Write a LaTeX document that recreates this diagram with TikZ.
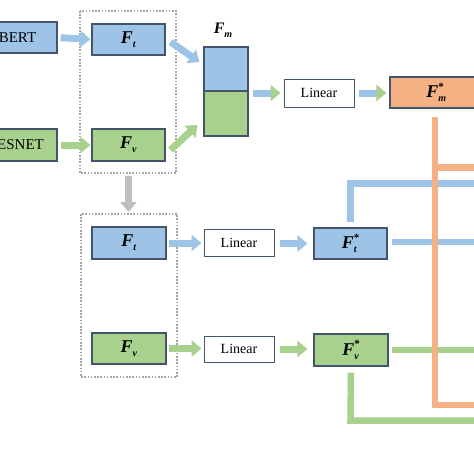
\documentclass[tikz,border=0pt]{standalone}
\usepackage{fontspec}
\setmainfont{Liberation Serif}
\usetikzlibrary{arrows.meta}
\definecolor{cblue}{HTML}{9DC3E6}
\definecolor{cgreen}{HTML}{A9D18E}
\definecolor{corange}{HTML}{F4B183}
\definecolor{cborder}{HTML}{44546A}
\definecolor{cdot}{HTML}{A6A6A6}
\definecolor{cgrey}{HTML}{BFBFBF}
\newcommand{\Fs}[1]{\textbf{\textit{F}}\raisebox{-0.5ex}{\fontsize{10}{10}\selectfont\textbf{\textit{#1}}}}
\newcommand{\Fss}[1]{\textbf{\textit{F}}\rlap{\raisebox{-0.5ex}{\fontsize{10}{10}\selectfont\textbf{\textit{#1}}}}\raisebox{0.9ex}{\fontsize{11}{11}\selectfont\textbf{*}}\hspace{2pt}}
\tikzset{
  box/.style={draw=cborder, line width=1.2pt, inner sep=0pt, minimum width=73pt, minimum height=31pt, font=\fontsize{18}{18}\selectfont},
  bluebox/.style={box, fill=cblue},
  greenbox/.style={box, fill=cgreen},
  linbox/.style={draw=cborder, line width=1pt, fill=white, inner sep=0pt, minimum width=70pt, minimum height=27pt, font=\fontsize{14}{14}\selectfont},
  dotbox/.style={draw=cdot, line width=2.2pt, dash pattern=on 1.6pt off 1.6pt},
  blockarrow/.style={line width=7pt, -{Triangle[length=10pt,width=16pt]}},
  barrow/.style={blockarrow, cblue},
  garrow/.style={blockarrow, cgreen},
  mixarrow/.style={line width=7pt, cblue, -{Triangle[length=10pt,width=16pt,color=cgreen]}},
  greyarrow/.style={line width=7pt, cgrey, -{Triangle[length=10pt,width=16pt]}},
  thickline/.style={line width=6.5pt, line join=miter},
}
\begin{document}
\begin{tikzpicture}[x=1pt,y=-1pt]
\useasboundingbox (0,0) rectangle (474,474);
\clip (0,0) rectangle (474,474);
% dotted groups
\draw[dotbox] (80,11) rectangle (176,173);
\draw[dotbox] (81,214) rectangle (177,377);
\coordinate (d1b) at (128.5,176);
\coordinate (d2t) at (128.5,212);
% top row
\node[bluebox, minimum width=79pt, font=\fontsize{15}{15}\selectfont] (bert) at (17.5,37.5) {BERT};
\node[greenbox, minimum width=83pt, minimum height=32pt, font=\fontsize{15}{15}\selectfont] (resnet) at (15.5,145) {RESNET};
\node[bluebox] (ft1) at (128.5,39.5) {\Fs{t}};
\node[greenbox, minimum height=32pt] (fv1) at (128.5,145) {\Fs{v}};
\node[box, fill=cblue, minimum width=44pt, minimum height=44pt] (fmtop) at (226,69) {};
\node[box, fill=cgreen, minimum width=44pt, minimum height=45pt] (fmbot) at (226,113.5) {};
\node[font=\fontsize{16}{16}\selectfont, inner sep=0pt] (fmlab) at (223,30) {\Fs{m}};
\node[linbox, minimum height=28pt] (lin1) at (319,93) {Linear};
\node[box, fill=corange, minimum width=90pt] (fmstar) at (435,92.5) {\Fss{m}};
% second group
\node[bluebox, minimum width=74pt, minimum height=32pt] (ft2) at (129,243) {\Fs{t}};
\node[greenbox, minimum width=74pt] (fv2) at (129,348.5) {\Fs{v}};
\node[linbox] (lin2) at (239,242.5) {Linear};
\node[linbox, minimum height=26pt] (lin3) at (239,349) {Linear};
\node[bluebox, minimum height=31pt] (ftstar) at (350.5,243.5) {\Fss{t}};
\node[greenbox, minimum width=74pt, minimum height=32pt] (fvstar) at (351,350) {\Fss{v}};
% arrows
\draw[barrow, shorten <=3pt, shorten >=1pt] (bert.east) -- (ft1.west);
\draw[garrow, shorten <=3pt, shorten >=1pt] (resnet.east |- fv1.west) -- (fv1.west);
\draw[barrow] ([xshift=5pt,yshift=-2.5pt]ft1.east) -- ([xshift=-4pt,yshift=7pt]fmtop.west);
\draw[garrow] ([xshift=5pt,yshift=-5pt]fv1.east) -- ([xshift=-6pt,yshift=-11.5pt]fmbot.west);
\draw[mixarrow, shorten <=4pt, shorten >=3pt] (fmbot.north east |- lin1.west) -- (lin1.west);
\draw[mixarrow, shorten <=4pt, shorten >=3pt] (lin1.east) -- (lin1.east -| fmstar.west);
\draw[greyarrow] (d1b) -- (d2t);
\draw[barrow, shorten <=2pt, shorten >=2pt] (ft2.east) -- (lin2.west |- ft2.east);
\draw[garrow, shorten <=2pt, shorten >=2pt] (fv2.east) -- (lin3.west |- fv2.east);
\draw[barrow, shorten <=5pt, shorten >=6pt] (lin2.east |- ftstar.west) -- (ftstar.west);
\draw[garrow, shorten <=5pt, shorten >=6pt] (lin3.east) -- (lin3.east -| fvstar.west);
% output lines
\coordinate (bcorner) at (350.5,183.5);
\coordinate (bend) at (480,183.5);
\coordinate (bend2) at (480,242);
\coordinate (gcorner) at (350.5,420.5);
\coordinate (gend) at (480,420.5);
\coordinate (gend2) at (480,350);
\coordinate (ocorner) at (435,405);
\coordinate (oend) at (480,405);
\coordinate (ojoin) at (435,167.5);
\coordinate (oend2) at (480,167.5);
\draw[thickline, cblue] ([yshift=5pt]ftstar.north) -- (bcorner) -- (bend);
\draw[thickline, cblue] ([xshift=4pt,yshift=1.5pt]ftstar.east) -- (bend2);
\draw[thickline, cgreen] ([xshift=3pt]fvstar.east) -- (gend2);
\draw[thickline, cgreen] ([yshift=-6pt]fvstar.south) -- (gcorner) -- (gend);
\draw[thickline, corange] ([yshift=-8pt]fmstar.south) -- (ocorner) -- (oend);
\draw[thickline, corange] (ojoin) -- (oend2);
\end{tikzpicture}
\end{document}
